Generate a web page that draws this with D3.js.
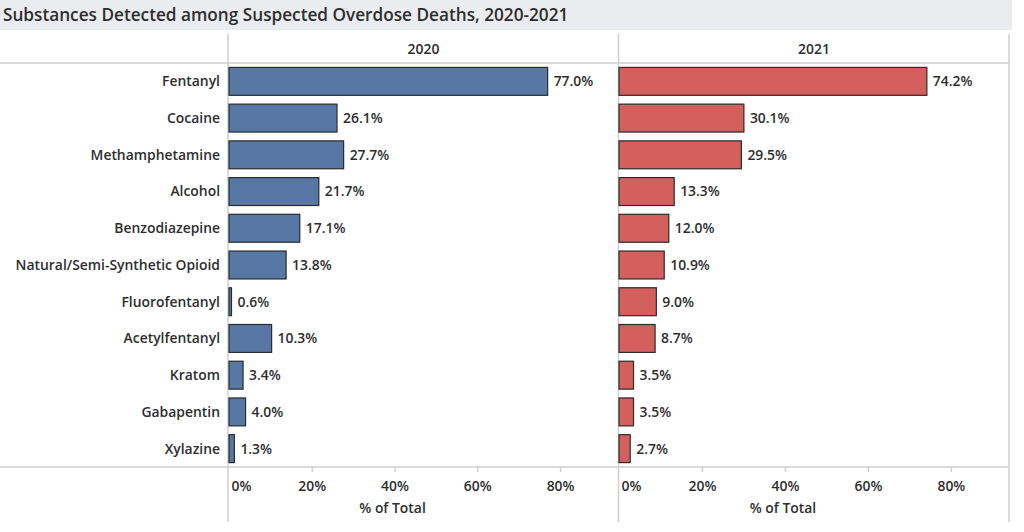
<!DOCTYPE html>
<html><head><meta charset="utf-8">
<script src="https://cdn.jsdelivr.net/npm/d3@7"></script>
<style>
body{margin:0;background:#fff;}
svg text{font-family:"Open Sans","Noto Sans",sans-serif;fill:#2e2e2e;font-weight:600;}
</style></head>
<body><svg id="c" width="1024" height="532"></svg>
<script>
const title = "Substances Detected among Suspected Overdose Deaths, 2020-2021";
const categories = ["Fentanyl","Cocaine","Methamphetamine","Alcohol","Benzodiazepine","Natural/Semi-Synthetic Opioid","Fluorofentanyl","Acetylfentanyl","Kratom","Gabapentin","Xylazine"];
const years = ["2020","2021"];
const values2020 = [77.0,26.1,27.7,21.7,17.1,13.8,0.6,10.3,3.4,4.0,1.3];
const values2021 = [74.2,30.1,29.5,13.3,12.0,10.9,9.0,8.7,3.5,3.5,2.7];
const tickValues = [0,20,40,60,80];
const axisTitle = "% of Total";
const colors = ["#5778a4","#d4605e"];

(function(){
const svg = d3.select("#c");
const plotTop = 63, plotBottom = 467, lineTop = 34, lineBottom = 522, rightEdge = 1009;
const panels = [[229, 618],[619, 1009]];
const seriesValues = [values2020, values2021];
const fs = 13.9;

svg.append("rect").attr("x",0).attr("y",0).attr("width",1012).attr("height",30).attr("fill","#ebecef");
svg.append("text").attr("x",3).attr("y",21).attr("font-size",17.2).text(title);

const y = d3.scaleBand().domain(categories).range([plotTop, plotBottom]).paddingInner(0.24).paddingOuter(0.12);

const g = svg.append("g");
g.append("line").attr("x1",0).attr("x2",rightEdge).attr("y1",plotTop).attr("y2",plotTop).attr("stroke","#cfcfcf").attr("stroke-width",1.5);
g.append("line").attr("x1",0).attr("x2",rightEdge).attr("y1",plotBottom).attr("y2",plotBottom).attr("stroke","#cfcfcf").attr("stroke-width",1.5);
[228, 618.5, rightEdge].forEach(x=>{
  g.append("line").attr("x1",x).attr("x2",x).attr("y1",lineTop).attr("y2",lineBottom).attr("stroke","#cfcfcf").attr("stroke-width",1.5);
});

svg.append("g").selectAll("text").data(categories).join("text")
  .attr("x",220).attr("y",d=>y(d)+y.bandwidth()/2).attr("dy","0.35em")
  .attr("text-anchor","end").attr("font-size",fs).text(d=>d);

panels.forEach((r,i)=>{
  const x = d3.scaleLinear().domain([0,94]).range(r);
  const vals = seriesValues[i];
  const data = categories.map((c,j)=>({c, v: vals[j]}));
  svg.append("text").attr("x",(r[0]+r[1])/2).attr("y",53.5).attr("text-anchor","middle").attr("font-size",fs).text(years[i]);
  svg.append("g").selectAll("rect").data(data).join("rect")
    .attr("x",x(0)).attr("y",d=>y(d.c)).attr("width",d=>x(d.v)-x(0)).attr("height",y.bandwidth())
    .attr("fill",colors[i]).attr("stroke","#2b2b2b").attr("stroke-width",1.2);
  svg.append("g").selectAll("text").data(data).join("text")
    .attr("x",d=>x(d.v)+6).attr("y",d=>y(d.c)+y.bandwidth()/2).attr("dy","0.35em")
    .attr("font-size",fs).text(d=>d.v.toFixed(1)+"%");
  const axis = d3.axisBottom(x).tickValues(tickValues).tickFormat(d=>d+"%").tickSize(5).tickSizeOuter(0);
  const ag = svg.append("g").attr("transform",`translate(0,${plotBottom})`).call(axis);
  ag.select(".domain").remove();
  ag.selectAll(".tick line").attr("stroke","#cfcfcf").attr("stroke-width",1.5);
  ag.selectAll(".tick text").attr("font-size",fs).attr("fill","#2e2e2e").attr("dy","1.15em")
    .style("font-family",'"Open Sans","Noto Sans",sans-serif').style("font-weight",600);
  ag.selectAll(".tick").filter(d=>d===0).select("text").attr("text-anchor","start").attr("x",2);
  ag.selectAll(".tick").filter(d=>d===0).select("line").remove();
  svg.append("text").attr("x",(r[0]+x(80))/2 - 2).attr("y",513).attr("text-anchor","middle").attr("font-size",fs).text(axisTitle);
});
})();
</script></body></html>
